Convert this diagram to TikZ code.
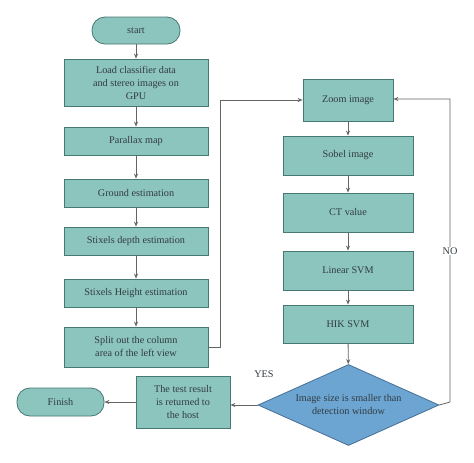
\documentclass[tikz,border=0pt]{standalone}
\usepackage{fontspec}
\setmainfont{Liberation Serif}
\usetikzlibrary{shapes.geometric,arrows.meta}
\definecolor{boxfill}{RGB}{140,196,190}
\definecolor{boxline}{RGB}{70,120,116}
\definecolor{diafill}{RGB}{108,165,210}
\definecolor{diline}{RGB}{70,110,150}
\definecolor{txt}{RGB}{50,60,65}
\definecolor{conn}{RGB}{100,100,100}
\tikzset{
  box/.style={draw=boxline, fill=boxfill, line width=0.8pt, align=center, text=txt, font=\fontsize{10.2}{13}\selectfont, inner sep=0pt},
  term/.style={box, rounded corners=13pt},
  dia/.style={diamond, draw=diline, fill=diafill, line width=0.8pt, align=center, text=txt, font=\fontsize{10.2}{13}\selectfont, inner sep=0pt, aspect=2.23},
  conn/.style={draw=conn, line width=0.8pt, -{Stealth[length=5pt,width=4pt]}},
  lbl/.style={text=txt, font=\fontsize{10.2}{13}\selectfont}
}
\begin{document}
\begin{tikzpicture}[x=1pt,y=-1pt]
\useasboundingbox (0,0) rectangle (474,463);
\node[term, minimum width=88pt, minimum height=27pt] (start) at (136,30.5) {start};
\node[box, minimum width=144pt, minimum height=47pt] (load) at (136,82.5) {Load classifier data\\and stereo images on\\GPU};
\node[box, minimum width=144pt, minimum height=28pt] (par) at (136,141) {Parallax map};
\node[box, minimum width=144pt, minimum height=28pt] (gro) at (136,193) {Ground estimation};
\node[box, minimum width=144pt, minimum height=28pt] (sde) at (136,241) {Stixels depth estimation};
\node[box, minimum width=144pt, minimum height=28pt] (she) at (136,293) {Stixels Height estimation};
\node[box, minimum width=144pt, minimum height=40pt] (spl) at (136,347) {Split out the column\\area of the left view};
\node[box, minimum width=94pt, minimum height=52pt] (res) at (183,402) {The test result\\is returned to\\the host};
\node[term, minimum width=87pt, minimum height=28pt] (fin) at (60.5,402) {Finish};
\node[box, minimum width=90pt, minimum height=42pt] (zoom) at (348,100) {Zoom image};
\node[box, minimum width=130pt, minimum height=39pt] (sob) at (348,155.5) {Sobel image};
\node[box, minimum width=130pt, minimum height=39pt] (ct) at (348,212.5) {CT value};
\node[box, minimum width=130pt, minimum height=39pt] (lin) at (348,270.5) {Linear SVM};
\node[box, minimum width=130pt, minimum height=38pt] (hik) at (348,324) {HIK SVM};
\node[dia, minimum width=181pt, minimum height=81pt] (dec) at (348.5,405) {Image size is smaller than\\detection window};
\coordinate (c1) at (220,347);
\coordinate (c2) at (220,100);
\coordinate (c3) at (450,402);
\coordinate (c4) at (450,99);
\draw[conn] (start) -- (load);
\draw[conn] (load) -- (par);
\draw[conn] (par) -- (gro);
\draw[conn] (gro) -- (sde);
\draw[conn] (sde) -- (she);
\draw[conn] (she) -- (spl);
\draw[conn] (spl.east) -- (c1) -- (c2) -- (zoom.west);
\draw[conn] (zoom) -- (sob);
\draw[conn] (sob) -- (ct);
\draw[conn] (ct) -- (lin);
\draw[conn] (lin) -- (hik);
\draw[conn] (hik) -- (dec);
\draw[conn] (dec.east) -- (c3) -- (c4) -- (zoom.east |- c4);
\draw[conn] (dec.west) -- (res.east |- dec.west);
\draw[conn] (res.west |- fin.east) -- (fin.east);
\node[lbl, fill=white, inner sep=1pt] (no) at (450,251) {NO};
\node[lbl] (yes) at (264,374) {YES};
\end{tikzpicture}
\end{document}
